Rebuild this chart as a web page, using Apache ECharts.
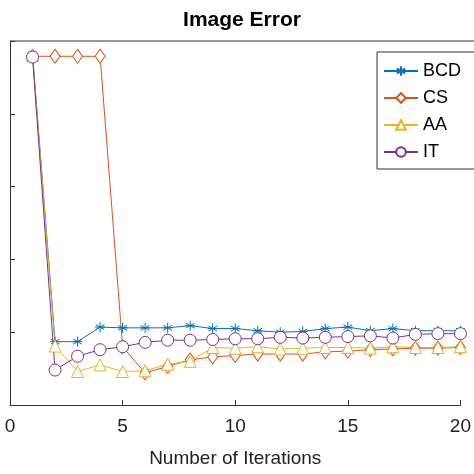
<!DOCTYPE html>
<html>
<head>
<meta charset="UTF-8">
<script src="https://cdn.jsdelivr.net/npm/echarts@6/dist/echarts.min.js"></script>
</head>
<body style="margin:0;background:#fff;">
<div id="chart" style="width:474px;height:474px;"></div>
<script>
var iterations = [1,2,3,4,5,6,7,8,9,10,11,12,13,14,15,16,17,18,19,20];
var bcd = [4.82,0.87,0.87,1.07,1.06,1.06,1.06,1.09,1.05,1.05,1.02,1.0,1.01,1.05,1.07,1.02,1.05,1.02,1.02,1.02];
var cs  = [4.79,4.79,4.79,4.79,0.80,0.44,0.53,0.62,0.66,0.68,0.70,0.70,0.70,0.73,0.74,0.76,0.77,0.78,0.78,0.79];
var aa  = [4.80,0.81,0.46,0.55,0.46,0.47,0.56,0.60,0.79,0.78,0.80,0.77,0.78,0.79,0.79,0.78,0.80,0.79,0.79,0.80];
var it  = [4.78,0.48,0.67,0.76,0.80,0.86,0.89,0.89,0.90,0.91,0.91,0.93,0.92,0.93,0.94,0.95,0.92,0.97,0.98,0.98];

var star = 'path://M0,-10L0,10M-8.7,-5L8.7,5M-8.7,5L8.7,-5M-10,0L10,0';
function pairs(v) { return v.map(function (y, i) { return [iterations[i], y]; }); }
function mk(name, data, color, symbol, size) {
    return {
        name: name, type: 'line', data: pairs(data), symbol: symbol, symbolSize: size,
        showAllSymbol: true,
        lineStyle: {color: color, width: 1},
        itemStyle: {color: '#fff', borderColor: color, borderWidth: 1},
        emphasis: {disabled: true}
    };
}
var chart = echarts.init(document.getElementById('chart'));
chart.setOption({
    animation: false,
    title: {text: 'Image Error', left: 237, textAlign: 'center', top: 5,
        textStyle: {fontFamily: 'Liberation Sans', fontSize: 21, fontWeight: 'bold', color: '#000'}},
    legend: {
        orient: 'vertical', left: 377, top: 52, itemWidth: 34, itemHeight: 12, itemGap: 9,
        backgroundColor: '#fff', borderColor: '#333', borderWidth: 1, padding: [10, 40, 8, 6],
        textStyle: {fontFamily: 'Liberation Sans', fontSize: 18, color: '#000'},
        data: ['BCD', 'CS', 'AA', 'IT']
    },
    grid: {left: 10, width: 484, top: 41, bottom: 69, containLabel: false},
    xAxis: {
        type: 'value', min: 0, max: 20, interval: 5,
        name: 'Number of Iterations', nameLocation: 'middle', nameGap: 44,
        nameTextStyle: {fontFamily: 'Liberation Sans', fontSize: 19, color: '#222'},
        axisLine: {lineStyle: {color: '#333'}},
        axisTick: {inside: true, length: 5, lineStyle: {color: '#333'}},
        axisLabel: {fontFamily: 'Liberation Sans', fontSize: 19, color: '#222', margin: 12},
        splitLine: {show: false}
    },
    yAxis: [{
        type: 'value', min: 0, max: 5, interval: 1,
        axisLine: {show: true, lineStyle: {color: '#333'}},
        axisTick: {show: true, inside: true, length: 5, lineStyle: {color: '#333'}},
        axisLabel: {show: false},
        splitLine: {show: false}
    }],
    graphic: [{type: 'line', shape: {x1: 10, y1: 41, x2: 474, y2: 41}, style: {stroke: '#333', lineWidth: 1}}],
    series: [
        mk('BCD', bcd, '#0072BD', star, 10),
        mk('CS', cs, '#D95319', 'diamond', [10, 14]),
        mk('AA', aa, '#EDB120', 'triangle', 12),
        mk('IT', it, '#7E2F8E', 'circle', 12)
    ]
});
</script>
</body>
</html>
